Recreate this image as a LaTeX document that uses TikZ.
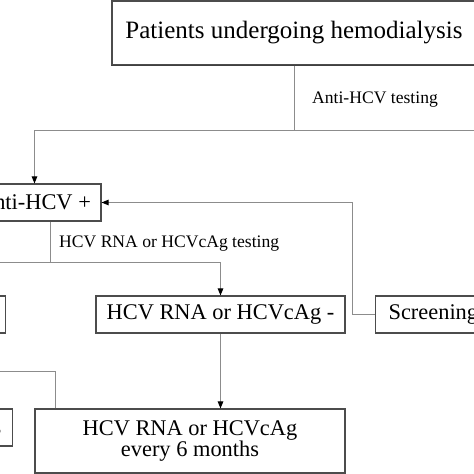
\documentclass[tikz,border=0pt]{standalone}
\usepackage{fontspec}
\setmainfont{Liberation Serif}
\usetikzlibrary{arrows.meta}
\begin{document}
\begin{tikzpicture}[x=1pt,y=-1pt,
 box/.style={draw=black!70, line width=1.1pt, inner sep=0pt, font=\fontsize{22.4}{21}\selectfont},
 conn/.style={draw=black!45, line width=1pt},
 arr/.style={conn, -{Triangle[length=7pt,width=5.5pt,fill=black,color=black]}},
 lbl/.style={inner sep=0pt, anchor=base west, font=\fontsize{17.6}{20}\selectfont}]
\useasboundingbox (0,0) rectangle (474,474);
\fill[white] (0,0) rectangle (474,474);
\clip (0,0) rectangle (474,474);
% boxes
\node[box, minimum width=364pt, minimum height=64pt, font=\fontsize{25}{30}\selectfont] (pat) at (294,33) {Patients undergoing hemodialysis};
\draw[draw=black!75, line width=1.6pt] (pat.south west) -- (pat.south east);
\node[box, minimum width=133pt, minimum height=37pt] (anti) at (34.5,202.5) {Anti-HCV +};
\node[box, minimum width=249pt, minimum height=37pt] (neg) at (220.5,314.5) {HCV RNA or HCVcAg -};
\node[box, anchor=west, minimum height=37pt, text width=200pt, inner xsep=13pt, align=left] (scr) at (375,314.5) {Screening};
\node[box, anchor=east, minimum width=200pt, minimum height=37pt] (boxA) at (6,314.5) {};
\node[box, anchor=east, minimum height=37pt, text width=140pt, inner xsep=11pt, align=right] (boxB) at (13,427.5) {DAAs};
\node[box, minimum width=310pt, minimum height=64pt, align=center] (every) at (190,441) {HCV RNA or HCVcAg\\every 6 months};
% labels
\node[lbl] (l1lab) at (312,103) {Anti-HCV testing};
\node[lbl] (l2lab) at (59,247) {HCV RNA or HCVcAg testing};
% connectors
\coordinate (j1) at (294,130);
\coordinate (r1) at (480,130);
\draw[conn] (pat.south) -- (j1);
\draw[conn] (r1) -- (j1);
\draw[arr] (j1) -| (anti.north);
\coordinate (j2) at (50,262);
\coordinate (l2) at (-10,262);
\draw[conn] (anti.south -| j2) -- (j2);
\draw[arr] (l2) -| (neg.north);
\draw[arr] (neg.south) -- (neg.south |- every.north);
\coordinate (c3) at (55,371);
\coordinate (l3) at (-10,371);
\draw[conn] (every.north -| c3) |- (l3);
\coordinate (c4) at (352,0);
\draw[arr] (scr.west) -- (scr.west -| c4) |- (anti.east);
\end{tikzpicture}
\end{document}
